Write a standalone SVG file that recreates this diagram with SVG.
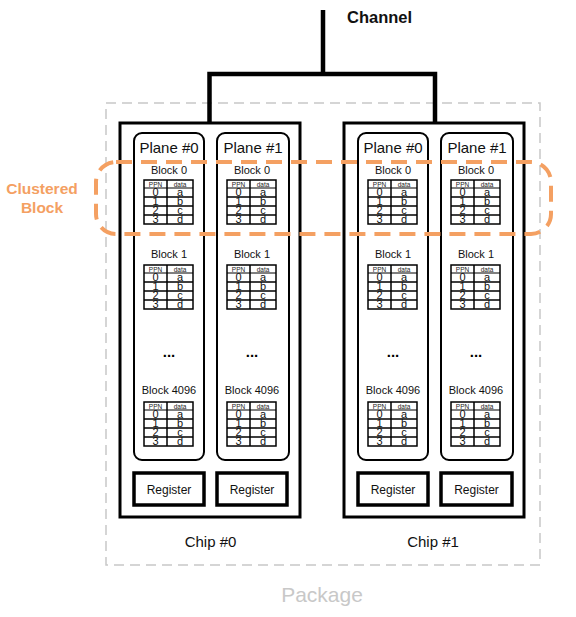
<svg xmlns="http://www.w3.org/2000/svg" xmlns:xlink="http://www.w3.org/1999/xlink" width="576" height="617" viewBox="0 0 576 617">
<style>
text{font-family:"Liberation Sans",Arial,sans-serif;fill:#111;text-anchor:middle}
.chip{fill:#fff;stroke:#000;stroke-width:3}
.plane{fill:#fff;stroke:#000;stroke-width:2}
.reg{fill:#fff;stroke:#000;stroke-width:3.5}
.pt{font-size:15px}
.bl{font-size:11px}
.rt{font-size:12px}
.ct{font-size:15px}
.dots{font-size:15px;font-weight:bold;fill:#000}
.th{font-size:6.5px;fill:#222}
.td{font-size:11px;fill:#111}
.tl{stroke:#000;fill:none}
.pkg{fill:none;stroke:#c8c8c8;stroke-width:1.5;stroke-dasharray:10 6}
.clu{fill:none;stroke:#F4A062;stroke-width:4;stroke-dasharray:16 9}
.ot{fill:#F4A062;font-weight:bold;font-size:15.5px}
</style>
<defs>
<g id="tbl">
<rect x="0" y="0" width="49" height="44" fill="#fff" stroke="#000" stroke-width="1.5"/>
<path class="tl" stroke-width="1" d="M0 8H49"/>
<path class="tl" stroke-width="1.5" d="M0 17H49M0 26H49M0 35H49M23 0V44"/>
<text class="th" x="11.5" y="6.5">PPN</text>
<text class="th" x="36" y="6.5">data</text>
<text class="td" x="11.5" y="16.2">0</text><text class="td" x="36" y="16.2">a</text>
<text class="td" x="11.5" y="25.2">1</text><text class="td" x="36" y="25.2">b</text>
<text class="td" x="11.5" y="34.2">2</text><text class="td" x="36" y="34.2">c</text>
<text class="td" x="11.5" y="43.2">3</text><text class="td" x="36" y="43.2">d</text>
</g>
<g id="planebody">
<text class="bl" x="35" y="174">Block 0</text>
<use xlink:href="#tbl" x="10" y="180"/>
<text class="bl" x="35" y="258">Block 1</text>
<use xlink:href="#tbl" x="10" y="265"/>
<text class="dots" x="35" y="357">...</text>
<text class="bl" x="35" y="394">Block 4096</text>
<use xlink:href="#tbl" x="10" y="402"/>
</g>
</defs>
<rect id="package" class="pkg" x="106" y="103" width="434" height="462"/>
<text id="package-label" x="322" y="602" style="font-size:21px;fill:#c8c8c8">Package</text>
<g id="connectors">
<path d="M323 10V74M209.5 124V74H435V124" fill="none" stroke="#000" stroke-width="4.5"/>
</g>
<text id="channel-label" x="347" y="23" style="font-size:16.5px;font-weight:bold;text-anchor:start">Channel</text>
<g id="chip0">
<rect class="chip" x="120" y="123" width="180" height="394"/>
<text class="ct" x="210.5" y="547">Chip #0</text>
</g>
<g id="chip0-plane0" transform="translate(134 0)">
<rect class="plane" x="0" y="133" width="70" height="327" rx="8"/>
<text class="pt" x="35" y="153">Plane #0</text>
<use xlink:href="#planebody"/>
</g>
<g id="chip0-plane1" transform="translate(217 0)">
<rect class="plane" x="0" y="133" width="72" height="327" rx="8"/>
<text class="pt" x="36" y="153">Plane #1</text>
<use xlink:href="#planebody"/>
</g>
<g id="chip0-reg0"><rect class="reg" x="134" y="473" width="70" height="32"/><text class="rt" x="169" y="494">Register</text></g>
<g id="chip0-reg1"><rect class="reg" x="217" y="473" width="70" height="32"/><text class="rt" x="252" y="494">Register</text></g>
<g id="chip1">
<rect class="chip" x="344" y="123" width="180" height="394"/>
<text class="ct" x="433" y="547">Chip #1</text>
</g>
<g id="chip1-plane0" transform="translate(358 0)">
<rect class="plane" x="0" y="133" width="70" height="327" rx="8"/>
<text class="pt" x="35" y="153">Plane #0</text>
<use xlink:href="#planebody"/>
</g>
<g id="chip1-plane1" transform="translate(441 0)">
<rect class="plane" x="0" y="133" width="72" height="327" rx="8"/>
<text class="pt" x="36" y="153">Plane #1</text>
<use xlink:href="#planebody"/>
</g>
<g id="chip1-reg0"><rect class="reg" x="358" y="473" width="70" height="32"/><text class="rt" x="393" y="494">Register</text></g>
<g id="chip1-reg1"><rect class="reg" x="441" y="473" width="71" height="32"/><text class="rt" x="476.5" y="494">Register</text></g>
<g id="clustered-block">
<rect class="clu" x="96" y="162" width="455" height="72" rx="20"/>
<text class="ot" x="42" y="194">Clustered</text>
<text class="ot" x="42" y="213">Block</text>
</g>
</svg>
